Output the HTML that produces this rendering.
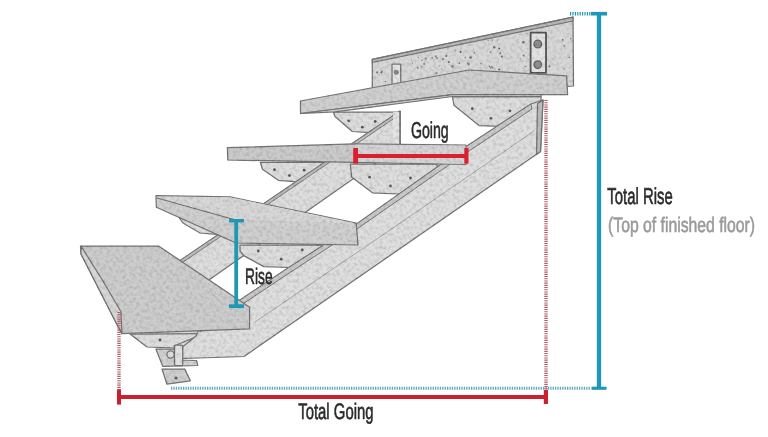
<!DOCTYPE html>
<html><head><meta charset="utf-8">
<style>
html,body{margin:0;padding:0;background:#fff;width:768px;height:437px;overflow:hidden}
svg{display:block}
text{font-family:"Liberation Sans",sans-serif}
</style></head>
<body>
<svg width="768" height="437" viewBox="0 0 768 437">
<defs>
<filter id="tex" x="0" y="0" width="768" height="437" filterUnits="userSpaceOnUse">
<feTurbulence type="fractalNoise" baseFrequency="0.3" numOctaves="2" seed="7" result="n"/>
<feColorMatrix in="n" type="matrix" values="0 0 0 0 0  0 0 0 0 0  0 0 0 0 0  -0.6 0 0 0 0.36" result="na"/>
<feComposite in="na" in2="SourceAlpha" operator="in" result="nc"/>
<feMerge><feMergeNode in="SourceGraphic"/><feMergeNode in="nc"/></feMerge>
</filter>
</defs>
<g stroke="#767676" stroke-width="1.25" stroke-linejoin="round" filter="url(#tex)">
<!-- brackets behind far stringer -->
<polygon fill="#dedede" points="333.4,112 399.5,112 399.5,134 370,132.7 352.3,131.5 335,116.5"/>
<polygon fill="#dedede" points="260.4,162.3 331,162.3 331,182 297,181.9 278.4,180.3 262.5,169.3"/>
<!-- far stringer -->
<polygon fill="#dedede" points="400,111 400,146 206,282 206,336 150,336 150,281"/>
<polygon fill="#bdbdbd" stroke-width="0.9" points="400,111 400,114.3 152,283.3 150,281"/>
<rect x="393" y="112" width="7" height="32" fill="#e4e4e4" stroke="none"/>
<line x1="400" y1="111" x2="400" y2="146" stroke-width="1.6"/>
<!-- brackets in front of far stringer -->
<polygon fill="#dedede" points="452.4,96.5 541,96.5 541,124 499.4,126.4 479,125.6 454,105.3"/>
<polygon fill="#dedede" points="350.3,164 437,164 437,194 398.4,194 372.4,192.8 351.6,177"/>
<polygon fill="#dedede" points="178.7,217 228,238 216,234.4 200,233 183,223"/>
<polygon fill="#dedede" points="240,245 332,245 332,262 289.4,267.5 263.8,266.6 243.7,255.6 240,251"/>
<polygon fill="#dedede" points="130,334 206,333.5 175.8,348 147,347"/>
<polygon fill="#e0e0e0" points="174,346 204,333.5 209,333.5 182,347"/>
<!-- front stringer -->
<polygon fill="#dfdfdf" points="182.5,358.5 244,356.5 390,255.5 540.5,151.5 543,100 531,104 467,146 358,223 288,268 240,300 200,327 196,336 182.5,347"/>
<polygon fill="#c9c9c9" stroke-width="1" points="531,104 467,146 358,223 288,268 240,300 200,327 200,332 242,304.5 290,272.5 359,227.5 469,151 532,109"/>
<polygon fill="#bdbdbd" points="537.5,103.5 543,100 540.5,151.5 536.5,154.5"/>
<polyline fill="none" stroke="#a8a8a8" stroke-width="1" points="255,322 390,230 534,131"/>
<!-- header beam -->
<polygon fill="#d8d8d8" points="372.3,59.4 573,17.2 573.5,86 372.3,100"/>
<polygon fill="#b8b8b8" points="372.3,59.4 573,17.2 573,21 372.3,62.5"/>
<circle cx="421.6" cy="66.4" r="1.0" fill="#999" stroke="none"/><circle cx="497.6" cy="40.1" r="0.6" fill="#999" stroke="none"/><circle cx="425.8" cy="58.5" r="1.3" fill="#999" stroke="none"/><circle cx="452.8" cy="67.7" r="0.8" fill="#888" stroke="none"/><circle cx="520.3" cy="58.7" r="0.6" fill="#888" stroke="none"/><circle cx="523.6" cy="55.5" r="1.0" fill="#777" stroke="none"/><circle cx="491.6" cy="67.0" r="1.3" fill="#999" stroke="none"/><circle cx="452.4" cy="66.4" r="1.3" fill="#888" stroke="none"/><circle cx="564.2" cy="45.7" r="1.0" fill="#999" stroke="none"/><circle cx="474.4" cy="52.7" r="1.0" fill="#999" stroke="none"/><circle cx="489.5" cy="66.4" r="0.6" fill="#666" stroke="none"/><circle cx="569.2" cy="57.3" r="0.8" fill="#666" stroke="none"/><circle cx="564.1" cy="69.0" r="0.6" fill="#888" stroke="none"/><circle cx="499.1" cy="69.4" r="1.0" fill="#666" stroke="none"/><circle cx="500.2" cy="53.2" r="1.0" fill="#777" stroke="none"/><circle cx="455.5" cy="50.5" r="1.0" fill="#999" stroke="none"/><circle cx="525.7" cy="66.4" r="0.6" fill="#777" stroke="none"/><circle cx="449.0" cy="62.0" r="1.0" fill="#888" stroke="none"/><circle cx="570.7" cy="38.6" r="0.6" fill="#777" stroke="none"/><circle cx="492.6" cy="40.1" r="0.8" fill="#999" stroke="none"/><circle cx="432.2" cy="57.9" r="0.6" fill="#666" stroke="none"/><circle cx="436.5" cy="73.0" r="1.3" fill="#999" stroke="none"/><circle cx="465.2" cy="57.3" r="0.6" fill="#666" stroke="none"/><circle cx="459.5" cy="63.1" r="0.8" fill="#666" stroke="none"/><circle cx="460.7" cy="51.9" r="1.0" fill="#666" stroke="none"/><circle cx="377.2" cy="72.3" r="1.0" fill="#777" stroke="none"/><circle cx="448.8" cy="62.1" r="0.8" fill="#777" stroke="none"/><circle cx="499.2" cy="48.4" r="1.0" fill="#666" stroke="none"/><circle cx="494.3" cy="47.3" r="1.3" fill="#777" stroke="none"/><circle cx="490.5" cy="68.0" r="0.6" fill="#666" stroke="none"/><circle cx="424.2" cy="63.9" r="1.0" fill="#888" stroke="none"/><circle cx="446.3" cy="56.1" r="1.0" fill="#666" stroke="none"/><circle cx="433.9" cy="60.1" r="0.6" fill="#888" stroke="none"/><circle cx="435.8" cy="56.2" r="1.0" fill="#888" stroke="none"/><circle cx="439.2" cy="66.0" r="0.6" fill="#777" stroke="none"/><circle cx="492.7" cy="67.9" r="0.8" fill="#999" stroke="none"/><circle cx="417.7" cy="67.7" r="1.0" fill="#888" stroke="none"/><circle cx="562.7" cy="39.9" r="0.8" fill="#666" stroke="none"/><circle cx="441.7" cy="69.0" r="0.6" fill="#666" stroke="none"/><circle cx="490.5" cy="52.1" r="1.0" fill="#999" stroke="none"/><circle cx="442.9" cy="59.2" r="1.3" fill="#999" stroke="none"/><circle cx="382.0" cy="71.3" r="0.8" fill="#777" stroke="none"/><circle cx="468.6" cy="64.1" r="1.3" fill="#888" stroke="none"/><circle cx="381.3" cy="72.4" r="1.0" fill="#666" stroke="none"/><circle cx="549.4" cy="66.5" r="1.0" fill="#777" stroke="none"/><circle cx="552.1" cy="58.8" r="0.8" fill="#999" stroke="none"/><circle cx="488.1" cy="40.4" r="0.6" fill="#888" stroke="none"/><circle cx="473.6" cy="49.1" r="0.6" fill="#999" stroke="none"/><circle cx="385.4" cy="81.5" r="0.6" fill="#666" stroke="none"/><circle cx="481.0" cy="63.6" r="0.6" fill="#666" stroke="none"/><circle cx="418.3" cy="57.5" r="0.6" fill="#888" stroke="none"/><circle cx="421.9" cy="60.2" r="0.8" fill="#777" stroke="none"/><circle cx="470.6" cy="57.6" r="1.3" fill="#777" stroke="none"/><circle cx="523.3" cy="42.2" r="1.3" fill="#777" stroke="none"/><circle cx="467.7" cy="62.9" r="0.6" fill="#777" stroke="none"/><circle cx="526.9" cy="33.7" r="0.6" fill="#777" stroke="none"/><circle cx="469.6" cy="44.7" r="0.6" fill="#999" stroke="none"/><circle cx="436.9" cy="58.1" r="1.0" fill="#999" stroke="none"/><circle cx="501.8" cy="56.4" r="1.0" fill="#666" stroke="none"/><circle cx="412.5" cy="63.3" r="0.6" fill="#888" stroke="none"/>
<rect x="392" y="64" width="8.7" height="21" fill="#e4e4e4"/>
<circle cx="396.3" cy="72.2" r="2.5" fill="#8a8a8a" stroke="none"/>
<rect x="530.6" y="32.6" width="15.4" height="40.2" fill="#e4e4e4" stroke="#555" stroke-width="1.8"/>
<circle cx="537.8" cy="44" r="3.8" fill="#8f8f8f" stroke="#666"/>
<circle cx="537.8" cy="64.6" r="3.8" fill="#8f8f8f" stroke="#666"/>
<!-- tread 4 -->
<polygon fill="#d0d0d0" points="300.4,101 469,70 566.6,75.9 567.6,94.6 452.4,94.6 300.6,113.5"/>
<polygon fill="#d6d6d6" points="300.6,113.5 452.4,94.6 541,94.6 541,96.5 452.4,96.5 335,111.8"/>
<!-- tread 3 -->
<polygon fill="#cbcbcb" points="227.4,147.7 354.8,143.8 466,145 466,164.5 354.8,162.3 227.8,160"/>
<polygon fill="#d6d6d6" stroke="none" points="355.5,144.5 465.3,145.7 465.3,163.8 355.5,161.6"/>
<!-- tread 2 -->
<polygon fill="#d0d0d0" points="156,195.7 230.2,196.9 356.2,223.1 358,245 236,243 156.4,207.2"/>
<polygon fill="#d8d8d8" stroke="none" points="156.5,196.5 230.2,197.2 355.5,223.2 235,219 157,198"/>
<polyline fill="none" stroke-width="1.1" points="157,198 234,219.5"/>
<!-- tread 1 -->
<polygon fill="#cdcdcd" points="80.5,246 158.5,246 249.6,307.3 249.6,328.8 121.7,333.7 117.4,325.3 81,254"/>
<polygon fill="#d8d8d8" points="81,246 102.3,280 120.9,311.5 122,333.5 117.4,325.3 81,254"/>
<!-- holes -->
<circle cx="348.7" cy="120.8" r="1.4" fill="#5a5a5a" stroke="none"/><circle cx="362.3" cy="127.2" r="1.4" fill="#5a5a5a" stroke="none"/><circle cx="375.2" cy="121.5" r="1.4" fill="#5a5a5a" stroke="none"/><circle cx="472.3" cy="108.7" r="1.4" fill="#5a5a5a" stroke="none"/><circle cx="490.9" cy="118.3" r="1.4" fill="#5a5a5a" stroke="none"/><circle cx="510" cy="110.8" r="1.4" fill="#5a5a5a" stroke="none"/><circle cx="274.5" cy="169.7" r="1.4" fill="#5a5a5a" stroke="none"/><circle cx="289.4" cy="175.6" r="1.4" fill="#5a5a5a" stroke="none"/><circle cx="304.2" cy="170.2" r="1.4" fill="#5a5a5a" stroke="none"/><circle cx="369.6" cy="177.2" r="1.4" fill="#5a5a5a" stroke="none"/><circle cx="390.5" cy="186" r="1.4" fill="#5a5a5a" stroke="none"/><circle cx="410.5" cy="178" r="1.4" fill="#5a5a5a" stroke="none"/><circle cx="258.3" cy="251" r="1.4" fill="#5a5a5a" stroke="none"/><circle cx="281.2" cy="259.2" r="1.4" fill="#5a5a5a" stroke="none"/><circle cx="302.3" cy="250" r="1.4" fill="#5a5a5a" stroke="none"/><circle cx="160" cy="340" r="1.4" fill="#5a5a5a" stroke="none"/>
<!-- feet -->
<polygon fill="#d2d2d2" points="156,349.2 174.5,349.2 174.5,360 196.5,360.5 197.8,365.5 162.8,366.4"/>
<rect x="174.5" y="345" width="8.2" height="20.7" rx="1.5" fill="#e2e2e2"/>
<circle cx="170.5" cy="354.5" r="3.6" fill="#dcdcdc"/>
<polygon fill="#cfcfcf" points="162,369 184.8,369 190.3,380.8 167,384.2"/>
<circle cx="176" cy="378" r="1.6" fill="#666" stroke="none"/>
</g>
<!-- annotations -->
<g>
<line x1="599" y1="13" x2="599" y2="389" stroke="#1e98b5" stroke-width="4.3"/>
<rect x="591" y="11.9" width="16" height="3.6" fill="#1e98b5"/>
<line x1="570" y1="13.7" x2="591" y2="13.7" stroke="#1e98b5" stroke-width="3.6" stroke-dasharray="1.2 1.2"/>
<rect x="591.5" y="386.7" width="15" height="3.1" fill="#1e98b5"/>
<line x1="171" y1="388.2" x2="591" y2="388.2" stroke="#5ea8bb" stroke-width="3" stroke-dasharray="1.3 1.1"/>
<line x1="546" y1="100" x2="546" y2="395" stroke="#b05a66" stroke-width="3.4" stroke-dasharray="1.1 1.1"/>
<line x1="119" y1="312" x2="119" y2="395" stroke="#b05a66" stroke-width="3.4" stroke-dasharray="1.1 1.1"/>
<line x1="118" y1="397" x2="546" y2="397" stroke="#cc2030" stroke-width="4"/>
<rect x="117" y="389.6" width="4" height="15" fill="#cc2030"/>
<rect x="543.8" y="390" width="4.2" height="14" fill="#cc2030"/>
<line x1="355" y1="156" x2="466" y2="156" stroke="#d8202e" stroke-width="4"/>
<rect x="353.2" y="148" width="4.8" height="15.6" fill="#d8202e"/>
<rect x="464.3" y="148" width="4.2" height="15.6" fill="#d8202e"/>
<line x1="236.2" y1="220" x2="236.2" y2="307" stroke="#1e98b5" stroke-width="3.8"/>
<rect x="229" y="219" width="15" height="3.5" fill="#1e98b5"/>
<rect x="229" y="304.3" width="15" height="3.8" fill="#1e98b5"/>
</g>
<g stroke-width="0.6" opacity="0.999" style="text-rendering:geometricPrecision">
<text x="607.3" y="204.4" font-size="23" fill="#2a2a2a" stroke="#2a2a2a" textLength="65.5" lengthAdjust="spacingAndGlyphs">Total Rise</text>
<text x="608.1" y="231.5" font-size="21" fill="#9a9a9a" stroke="#9a9a9a" textLength="147" lengthAdjust="spacingAndGlyphs">(Top of finished floor)</text>
<text x="410.9" y="137.8" font-size="23" fill="#2a2a2a" stroke="#2a2a2a" textLength="37.8" lengthAdjust="spacingAndGlyphs">Going</text>
<text x="245.1" y="284.2" font-size="22.5" fill="#2a2a2a" stroke="#2a2a2a" textLength="27.6" lengthAdjust="spacingAndGlyphs">Rise</text>
<text x="298.2" y="418.8" font-size="22.5" fill="#2a2a2a" stroke="#2a2a2a" textLength="75.4" lengthAdjust="spacingAndGlyphs">Total Going</text>
</g>
</svg>
</body></html>
